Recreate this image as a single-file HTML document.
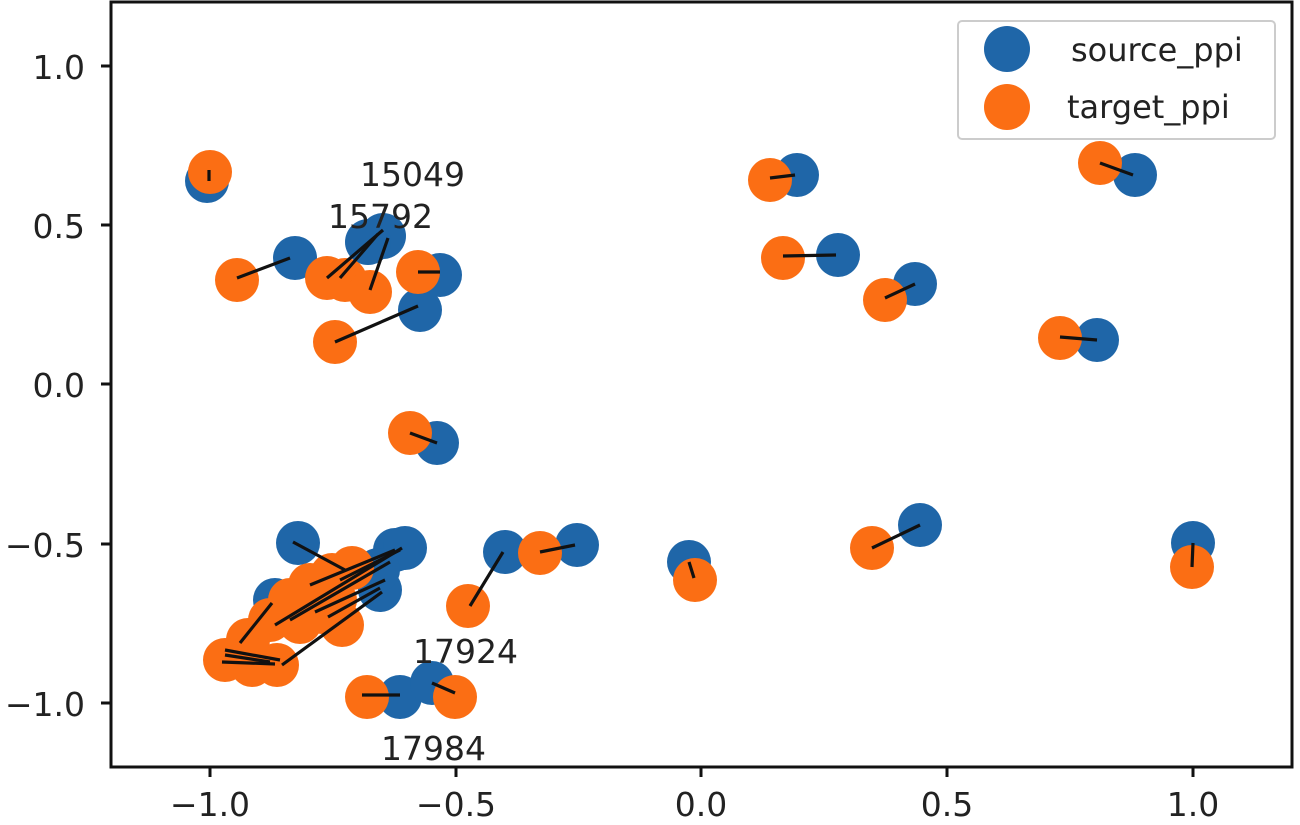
<!DOCTYPE html>
<html><head><style>body{margin:0;background:#fff}svg{display:block}text{font-family:"DejaVu Sans","Liberation Sans",sans-serif;fill:#222}</style></head><body>
<svg width="1300" height="825" viewBox="0 0 1300 825" xmlns="http://www.w3.org/2000/svg">
<rect width="1300" height="825" fill="#fff"/>
<g fill="#1f66a8">
<circle cx="207" cy="181" r="22"/><circle cx="295" cy="258" r="22"/>
<circle cx="383" cy="236" r="23"/><circle cx="368" cy="242" r="23"/><circle cx="440" cy="275" r="22"/>
<circle cx="420" cy="310" r="22"/><circle cx="437" cy="443" r="22"/>
<circle cx="797" cy="175" r="22"/><circle cx="838" cy="255" r="22"/><circle cx="915" cy="284" r="22"/>
<circle cx="1135" cy="175" r="22"/><circle cx="1097" cy="340" r="22"/>
<circle cx="920" cy="525" r="22"/><circle cx="1193" cy="543" r="22"/><circle cx="689" cy="562" r="22"/>
<circle cx="577" cy="545" r="22"/><circle cx="505" cy="552" r="22"/>
<circle cx="400" cy="697" r="22"/><circle cx="432" cy="683" r="22"/>
<circle cx="298" cy="543" r="22"/><circle cx="395" cy="550" r="22"/><circle cx="405" cy="548" r="22"/>
<circle cx="380" cy="590" r="22"/><circle cx="275" cy="600" r="22"/><circle cx="378" cy="570" r="22"/>
</g>
<g fill="#fb6e14">
<circle cx="210" cy="172" r="22"/><circle cx="237" cy="280" r="22"/>
<circle cx="327" cy="278" r="22"/><circle cx="345" cy="280" r="22"/><circle cx="370" cy="292" r="22"/>
<circle cx="418" cy="272" r="22"/><circle cx="335" cy="342" r="22"/><circle cx="410" cy="433" r="22"/>
<circle cx="770" cy="180" r="22"/><circle cx="783" cy="258" r="22"/><circle cx="885" cy="300" r="22"/>
<circle cx="1100" cy="163" r="22"/><circle cx="1060" cy="338" r="22"/>
<circle cx="872" cy="548" r="22"/><circle cx="1192" cy="567" r="22"/><circle cx="695" cy="580" r="22"/>
<circle cx="540" cy="553" r="22"/><circle cx="468" cy="606" r="22"/>
<circle cx="367" cy="697" r="22"/><circle cx="455" cy="697" r="22"/>
<circle cx="225" cy="660" r="22"/><circle cx="252" cy="665" r="22"/><circle cx="277" cy="665" r="22"/>
<circle cx="248" cy="640" r="22"/><circle cx="270" cy="620" r="22"/><circle cx="290" cy="600" r="22"/>
<circle cx="310" cy="585" r="22"/><circle cx="332" cy="575" r="22"/><circle cx="352" cy="568" r="22"/>
<circle cx="300" cy="622" r="22"/><circle cx="322" cy="612" r="22"/><circle cx="342" cy="625" r="22"/>
<circle cx="335" cy="600" r="22"/>
</g>
<g stroke="#111" stroke-width="3.2" fill="none">
<line x1="209" y1="181" x2="209" y2="170"/><line x1="290" y1="258" x2="237" y2="278"/>
<line x1="383" y1="230" x2="327" y2="278"/><line x1="378" y1="234" x2="340" y2="278"/><line x1="388" y1="238" x2="370" y2="290"/>
<line x1="440" y1="272" x2="418" y2="272"/><line x1="418" y1="306" x2="335" y2="342"/><line x1="437" y1="443" x2="410" y2="433"/>
<line x1="795" y1="175" x2="770" y2="178"/><line x1="836" y1="255" x2="783" y2="256"/><line x1="915" y1="284" x2="885" y2="298"/>
<line x1="1133" y1="175" x2="1100" y2="163"/><line x1="1097" y1="340" x2="1060" y2="337"/>
<line x1="920" y1="525" x2="872" y2="548"/><line x1="1193" y1="543" x2="1192" y2="567"/><line x1="689" y1="562" x2="694" y2="578"/>
<line x1="575" y1="545" x2="540" y2="552"/><line x1="503" y1="552" x2="470" y2="606"/>
<line x1="400" y1="695" x2="362" y2="695"/><line x1="432" y1="683" x2="455" y2="693"/>
<line x1="293" y1="542" x2="345" y2="570"/><line x1="400" y1="550" x2="340" y2="580"/><line x1="395" y1="550" x2="310" y2="585"/>
<line x1="402" y1="548" x2="275" y2="625"/><line x1="390" y1="562" x2="290" y2="620"/><line x1="385" y1="580" x2="315" y2="612"/>
<line x1="380" y1="588" x2="328" y2="617"/><line x1="382" y1="592" x2="282" y2="665"/><line x1="272" y1="603" x2="240" y2="643"/>
<line x1="225" y1="650" x2="280" y2="660"/><line x1="222" y1="662" x2="275" y2="664"/><line x1="225" y1="655" x2="270" y2="662"/>
</g>
<g font-size="33" style="fill:#333">
<text x="360" y="186">15049</text><text x="328" y="228">15792</text>
<text x="413" y="663">17924</text><text x="381" y="760">17984</text>
</g>
<rect x="111" y="2" width="1181" height="765" fill="none" stroke="#111" stroke-width="3"/>
<g stroke="#111" stroke-width="3">
<line x1="101" y1="66" x2="111" y2="66"/><line x1="101" y1="225" x2="111" y2="225"/><line x1="101" y1="384" x2="111" y2="384"/>
<line x1="101" y1="544" x2="111" y2="544"/><line x1="101" y1="703" x2="111" y2="703"/>
<line x1="210" y1="767" x2="210" y2="777"/><line x1="456" y1="767" x2="456" y2="777"/><line x1="701" y1="767" x2="701" y2="777"/>
<line x1="947" y1="767" x2="947" y2="777"/><line x1="1193" y1="767" x2="1193" y2="777"/>
</g>
<g font-size="33" text-anchor="end">
<text x="85" y="79">1.0</text><text x="85" y="238">0.5</text><text x="85" y="397">0.0</text>
<text x="85" y="557">−0.5</text><text x="85" y="716">−1.0</text>
</g>
<g font-size="33" text-anchor="middle">
<text x="210" y="816">−1.0</text><text x="456" y="816">−0.5</text><text x="701" y="816">0.0</text>
<text x="947" y="816">0.5</text><text x="1193" y="816">1.0</text>
</g>
<rect x="958" y="21" width="317" height="118" rx="4" fill="#fff" stroke="#ccc" stroke-width="2"/>
<circle cx="1007" cy="49" r="23" fill="#1f66a8"/><circle cx="1007" cy="107" r="23" fill="#fb6e14"/>
<g font-size="32"><text x="1071" y="61">source_ppi</text><text x="1067" y="118">target_ppi</text></g>
</svg>
</body></html>
